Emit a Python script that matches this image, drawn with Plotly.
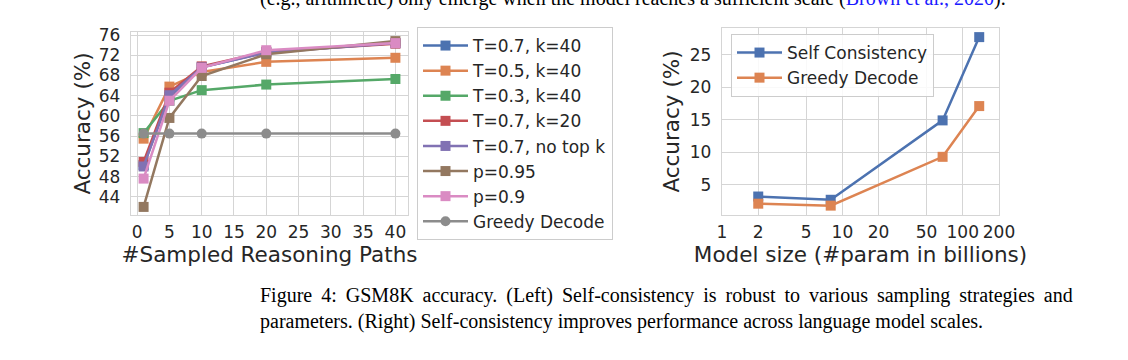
import plotly.graph_objects as go

# ---------------- data: left panel ----------------
paths = [1, 5, 10, 20, 40]
t07_k40 = [50.3, 63.8, 69.6, 72.6, 74.4]
t05_k40 = [55.5, 65.8, 68.7, 70.7, 71.5]
t03_k40 = [56.6, 63.0, 65.1, 66.2, 67.3]
t07_k20 = [50.9, 64.6, 69.8, 72.7, 74.3]
t07_notopk = [50.0, 64.1, 69.6, 72.5, 74.4]
p095 = [42.0, 59.6, 67.9, 72.2, 74.8]
p09 = [47.6, 63.0, 69.5, 73.0, 74.4]
greedy_left = [56.5, 56.5, 56.5, 56.5, 56.5]

left_names = ["T=0.7, k=40", "T=0.5, k=40", "T=0.3, k=40", "T=0.7, k=20",
              "T=0.7, no top k", "p=0.95", "p=0.9", "Greedy Decode"]

# ---------------- data: right panel ----------------
model_sizes = [2, 8, 68, 137]
self_consistency = [3.2, 2.7, 14.9, 27.7]
greedy_right = [2.1, 1.8, 9.3, 17.1]
right_names = ["Self Consistency", "Greedy Decode"]

left_ticks_y = [44, 48, 52, 56, 60, 64, 68, 72, 76]
left_ticks_x = [0, 5, 10, 15, 20, 25, 30, 35, 40]
right_ticks_y = [5, 10, 15, 20, 25]
right_ticks_x = [1, 2, 5, 10, 20, 50, 100, 200]

colors = ["#4C72B0", "#DD8452", "#55A868", "#C44E52",
          "#8172B3", "#937860", "#DA8BC3", "#8C8C8C"]

W, H = 1128, 360
FONT = "DejaVu Sans"
TXT = "#262626"
GRID = "#d5d5d5"


def px_x(p):
    return p / W


def px_y(p):
    return 1 - p / H


fig = go.Figure()

left_series = [t07_k40, t05_k40, t03_k40, t07_k20, t07_notopk, p095, p09, greedy_left]
for i, (name, ys) in enumerate(zip(left_names, left_series)):
    sym = "circle" if name == "Greedy Decode" else "square"
    fig.add_trace(go.Scatter(
        x=paths, y=ys, name=name, mode="lines+markers",
        line=dict(color=colors[i], width=2.5),
        marker=dict(symbol=sym, size=10, color=colors[i], line=dict(width=0)),
        xaxis="x", yaxis="y", legend="legend",
    ))

for i, (name, ys) in enumerate(zip(right_names, [self_consistency, greedy_right])):
    fig.add_trace(go.Scatter(
        x=model_sizes, y=ys, name=name, mode="lines+markers",
        line=dict(color=colors[i], width=2.5),
        marker=dict(symbol="square", size=10, color=colors[i], line=dict(width=0)),
        xaxis="x2", yaxis="y2", legend="legend2",
    ))

axis_common = dict(
    showgrid=True, gridcolor=GRID, gridwidth=1.2,
    showline=True, linecolor=GRID, linewidth=1.3, mirror=True,
    ticks="outside", tickcolor="rgba(0,0,0,0)", zeroline=False,
    tickfont=dict(family=FONT, size=17, color=TXT),
    title_font=dict(family=FONT, size=21.5, color=TXT),
)

fig.update_layout(
    width=W, height=H, autosize=False,
    margin=dict(l=0, r=0, t=0, b=0, autoexpand=False),
    paper_bgcolor="white", plot_bgcolor="white",
    font=dict(family=FONT, color=TXT),
    xaxis=dict(domain=[px_x(131), px_x(408)], range=[-0.95, 41.95],
               tickvals=left_ticks_x, anchor="y", ticklen=1,
               title=dict(text="#Sampled Reasoning Paths", standoff=2), **axis_common),
    yaxis=dict(domain=[px_y(215), px_y(32)], range=[40.4, 76.6],
               tickvals=left_ticks_y, anchor="x", ticklen=6,
               title=dict(text="Accuracy (%)", standoff=2), **axis_common),
    xaxis2=dict(domain=[px_x(722), px_x(999)], type="log",
                range=[0, 2.30103], tickvals=right_ticks_x,
                ticktext=[str(v) for v in right_ticks_x], anchor="y2", ticklen=1,
                title=dict(text="Model size (#param in billions)", standoff=2), **axis_common),
    yaxis2=dict(domain=[px_y(215), px_y(28)], range=[0.36, 29.1],
                tickvals=right_ticks_y, anchor="x2", ticklen=6,
                title=dict(text="Accuracy (%)", standoff=4), **axis_common),
    legend=dict(x=px_x(417), y=px_y(27), xanchor="left", yanchor="top",
                bgcolor="rgba(255,255,255,0.85)", bordercolor="#cccccc", borderwidth=1,
                itemwidth=45,
                font=dict(family=FONT, size=17, color=TXT)),
    legend2=dict(x=px_x(731), y=px_y(34), xanchor="left", yanchor="top",
                 bgcolor="rgba(255,255,255,0.85)", bordercolor="#cccccc", borderwidth=1,
                 itemwidth=45,
                 font=dict(family=FONT, size=17, color=TXT)),
    showlegend=True,
)

SERIF = "Liberation Serif"
SP = " \u2009"  # slightly widened inter-word space to mimic justified line
line1_words = "Figure 4: GSM8K accuracy. (Left) Self-consistency is robust to various sampling strategies and".split(" ")
fig.add_annotation(
    xref="paper", yref="paper", x=px_x(258), y=px_y(295), xanchor="left", yanchor="middle",
    text=SP.join(line1_words),
    showarrow=False, font=dict(family=SERIF, size=20, color="black"),
)
fig.add_annotation(
    xref="paper", yref="paper", x=px_x(258), y=px_y(321), xanchor="left", yanchor="middle",
    text="parameters. (Right) Self-consistency improves performance across language model scales.",
    showarrow=False, font=dict(family=SERIF, size=20, color="black"),
)
fig.add_annotation(
    xref="paper", yref="paper", x=px_x(258), y=px_y(-1.5), xanchor="left", yanchor="middle",
    text="(e.g., arithmetic) only emerge when the model reaches a sufficient scale "
         "(<span style='color:#1a1aff'>Brown et al., 2020</span>).",
    showarrow=False, font=dict(family=SERIF, size=20, color="black"),
)

fig.write_html(
    "out.html",
    config={"displayModeBar": False},
    post_script="document.body.style.margin='0';document.body.style.padding='0';",
)
